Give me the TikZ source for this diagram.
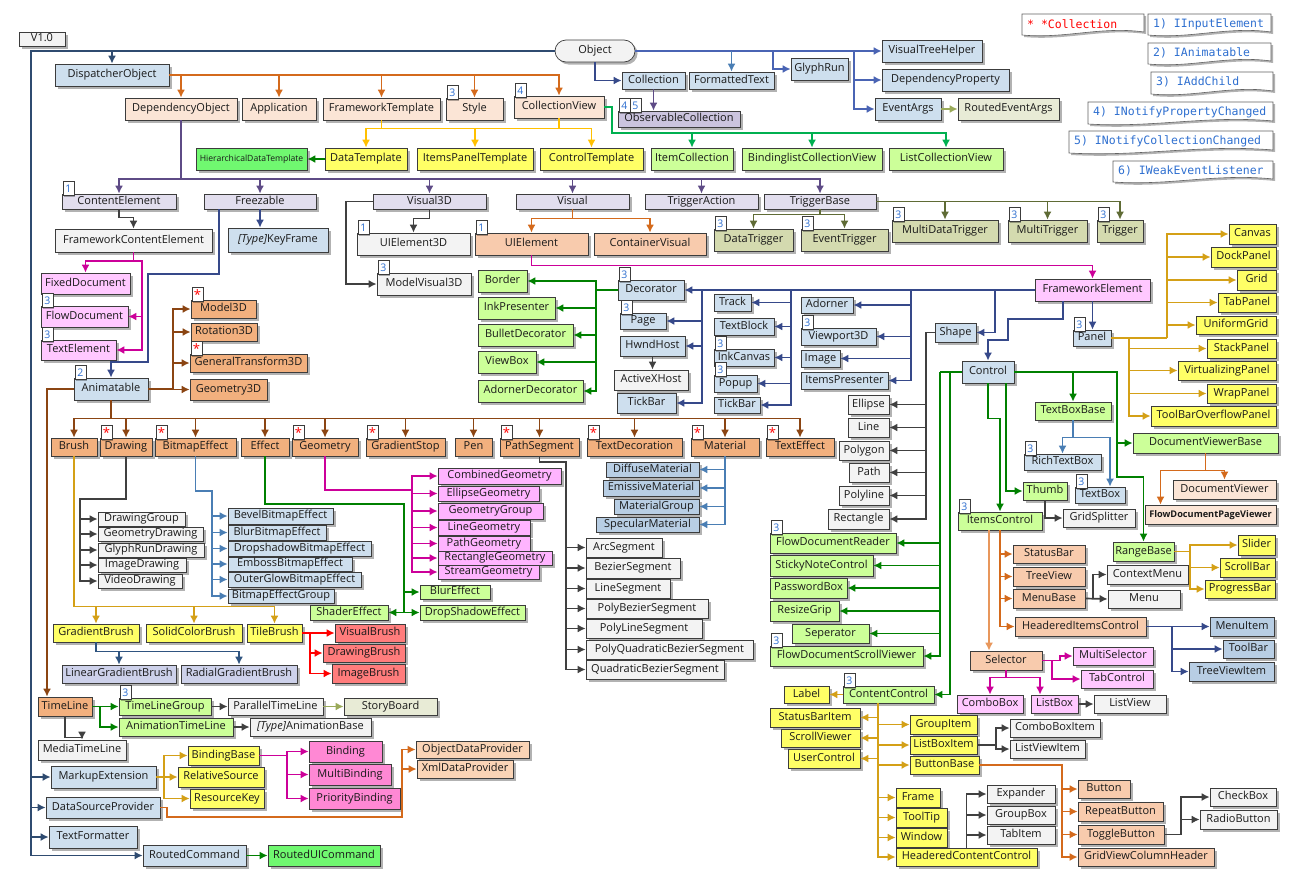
\documentclass[tikz,border=0pt]{standalone}
\usepackage{fontspec}
\setmainfont{Open Sans}
\newfontfamily\monofont{DejaVu Sans Mono}
\usetikzlibrary{positioning,arrows.meta,shadows}

\definecolor{bd}{HTML}{3C3C3C}
\definecolor{cnum}{HTML}{2E6FD0}
\definecolor{fblue}{HTML}{CEDFEE}
\definecolor{fblue2}{HTML}{B8CEE4}
\definecolor{fpeachl}{HTML}{FBE5D6}
\definecolor{fpeach}{HTML}{F8CBAD}
\definecolor{forange}{HTML}{F2B07E}
\definecolor{flav}{HTML}{E2DEEE}
\definecolor{flav2}{HTML}{CBC4DE}
\definecolor{fwhite}{HTML}{F3F3F3}
\definecolor{fyel}{HTML}{FFFF66}
\definecolor{fgreenl}{HTML}{CCFF99}
\definecolor{fgreen}{HTML}{70F870}
\definecolor{fpink}{HTML}{FFC8FF}
\definecolor{fpink2}{HTML}{FFB4FF}
\definecolor{fhot}{HTML}{FF88D4}
\definecolor{fred}{HTML}{FF7C7C}
\definecolor{folive}{HTML}{D4DAAF}
\definecolor{folivel}{HTML}{E8EBD6}
\definecolor{flavb}{HTML}{CDD1EA}
\definecolor{fpeachm}{HTML}{FAD4B6}
\definecolor{ctrunk}{HTML}{2F4B70}
\definecolor{cnavy}{HTML}{36498A}
\definecolor{cblue}{HTML}{4A64B4}
\definecolor{csteel}{HTML}{4A7EB4}
\definecolor{corange}{HTML}{D46A1C}
\definecolor{corangel}{HTML}{E8975C}
\definecolor{cbrown}{HTML}{8B4513}
\definecolor{cpurple}{HTML}{5E4B86}
\definecolor{cgold}{HTML}{FFC000}
\definecolor{cmustard}{HTML}{D4A017}
\definecolor{cgreen}{HTML}{008000}
\definecolor{clgreen}{HTML}{00B050}
\definecolor{colive}{HTML}{5F6B35}
\definecolor{colivel}{HTML}{9AAA5A}
\definecolor{cmag}{HTML}{CC0099}
\definecolor{cgrey}{HTML}{404040}
\definecolor{cred}{HTML}{FF0000}
\definecolor{cgblue}{HTML}{2F5480}

\begin{document}
\begin{tikzpicture}
    [
    x=1pt, y=-1pt,
    spot/.style args={#1,#2,#3,#4}{minimum width={#3-#1}, minimum height={#4-#2}, at={({(#1+#3)/2},{(#2+#4)/2})}},
    box/.style={draw=bd, line width=0.7pt, inner xsep=2pt, inner ysep=0pt, text height=8pt, text depth=2.5pt,
      font=\fontsize{11}{12}\selectfont, text=black!90,
      drop shadow={shadow xshift=2.5pt, shadow yshift=-2.5pt, fill=black, opacity=.3}},
    blu/.style={box, fill=fblue},
    blu2/.style={box, fill=fblue2},
    pkl/.style={box, fill=fpeachl},
    pkm/.style={box, fill=fpeachm},
    pch/.style={box, fill=fpeach},
    org/.style={box, fill=forange},
    lav/.style={box, fill=flav},
    lav2/.style={box, fill=flav2},
    lavb/.style={box, fill=flavb},
    wht/.style={box, fill=fwhite},
    yel/.style={box, fill=fyel},
    grl/.style={box, fill=fgreenl},
    grn/.style={box, fill=fgreen},
    pnk/.style={box, fill=fpink},
    pnk2/.style={box, fill=fpink2},
    hot/.style={box, fill=fhot},
    redb/.style={box, fill=fred},
    olv/.style={box, fill=folive},
    olvl/.style={box, fill=folivel},
    badge/.style={draw=bd, fill=white, line width=0.6pt, minimum width=11pt, minimum height=14pt,
      inner sep=0pt, anchor=south west, text=cnum, font=\fontsize{10.5}{11}\selectfont,
      drop shadow={shadow xshift=1.5pt, shadow yshift=-1.5pt, fill=black, opacity=.3}},
    astx/.style={badge, text=red, font=\fontsize{13}{13}\selectfont},
    ln/.style={line width=1.7pt},
    arr/.style={ln, -{Latex[length=8pt,width=8pt]}},
    legend/.style={draw=bd!80, fill=white, line width=0.6pt,
      drop shadow={shadow xshift=2pt, shadow yshift=-2pt, fill=black, opacity=.3}},
    legtext/.style={anchor=west, inner sep=0pt, text=cnum, font=\monofont\fontsize{11.5}{12}\selectfont},
    ]
    \useasboundingbox (0,0) rectangle (1295,881);
    \fill[white] (0,0) rectangle (1295,881);

    % top
    \node (ver) [wht, spot={19,32,65,46}] {V1.0};
    \node (obj) [wht, rounded corners=11pt, spot={555,40,635,62}] {Object};
    \node (dispobj) [blu, spot={55,64,169,86}] {DispatcherObject};
    \node (depobj) [pkl, spot={125,98,237,120}] {DependencyObject};
    \node (app) [pkl, spot={242,98,316,120}] {Application};
    \node (ftpl) [pkl, spot={323,98,440,120}] {FrameworkTemplate};
    \node (sty) [pkl, spot={446,98,503,120}] {Style};
    \node (cview) [pkl, spot={514,96,604,118}] {CollectionView};
    \node (coll) [blu, spot={622,72,685,89}] {Collection};
    \node (obs) [lav2, spot={618,111,740,127}] {ObservableCollection};
    \node (ftext) [blu, spot={689,72,774,89}] {FormattedText};
    \node (glyph) [blu, spot={791,58,848,80}] {GlyphRun};
    \node (vth) [blu, spot={882,40,982,62}] {VisualTreeHelper};
    \node (dprop) [blu, spot={882,69,1009,91}] {DependencyProperty};
    \node (evargs) [blu, spot={875,98,941,120}] {EventArgs};
    \node (revargs) [olvl, spot={958,98,1059,120}] {RoutedEventArgs};

    % templates and collection views
    \node (hdt) [grn, spot={196,148,307,170}, font=\fontsize{8.6}{9}\selectfont, text height=6.5pt, text depth=2pt] {HierarchicalDataTemplate};
    \node (dtpl) [yel, spot={325,148,407,170}] {DataTemplate};
    \node (ipt) [yel, spot={417,148,533,170}] {ItemsPanelTemplate};
    \node (ctpl) [yel, spot={540,148,643,170}] {ControlTemplate};
    \node (itemcoll) [grl, spot={651,148,733,170}] {ItemCollection};
    \node (blcv) [grl, spot={742,148,882,170}] {BindinglistCollectionView};
    \node (lcv) [grl, spot={889,148,1003,170}] {ListCollectionView};

    % dependency object children
    \node (celem) [lav, spot={62,194,176,209}] {ContentElement};
    \node (freez) [lav, spot={204,194,316,209}] {Freezable};
    \node (v3d) [lav, spot={373,194,486,209}] {Visual3D};
    \node (vis) [lav, spot={516,194,629,209}] {Visual};
    \node (taction) [lav, spot={645,194,758,209}] {TriggerAction};
    \node (tbase) [lav, spot={764,194,876,209}] {TriggerBase};

    \node (fce) [wht, spot={55,229,212,252}] {FrameworkContentElement};
    \node (kf) [blu, spot={228,228,328,252}] {\textit{[Type]}KeyFrame};
    \node (uie3d) [wht, spot={357,233,470,255}] {UIElement3D};
    \node (mv3d) [wht, spot={377,273,471,295}] {ModelVisual3D};
    \node (uie) [pch, spot={475,233,588,255}] {UIElement};
    \node (cvis) [pch, spot={594,233,706,255}] {ContainerVisual};
    \node (dtrig) [olv, spot={714,229,793,251}] {DataTrigger};
    \node (etrig) [olv, spot={801,229,888,251}] {EventTrigger};
    \node (mdtrig) [olv, spot={892,220,998,242}] {MultiDataTrigger};
    \node (mtrig) [olv, spot={1008,220,1087,242}] {MultiTrigger};
    \node (trig) [olv, spot={1097,220,1143,242}] {Trigger};

    \node (fixdoc) [pnk, spot={41,273,130,294}] {FixedDocument};
    \node (flowdoc) [pnk, spot={41,306,128,327}] {FlowDocument};
    \node (textel) [pnk, spot={41,340,116,360}] {TextElement};

    \node (model3d) [org, spot={191,300,256,318}] {Model3D};
    \node (rot3d) [org, spot={191,323,257,341}] {Rotation3D};
    \node (gt3d) [org, spot={190,354,307,372}] {GeneralTransform3D};
    \node (geo3d) [org, spot={190,379,267,400}] {Geometry3D};
    \node (anim) [blu, spot={74,378,148,400}] {Animatable};

    % framework element
    \node (fe) [pnk, spot={1035,279,1150,301}] {FrameworkElement};
    \node (deco) [blu, spot={618,280,684,300}] {Decorator};
    \node (border) [grl, spot={478,270,527,292}] {Border};
    \node (inkp) [grl, spot={478,297,555,319}] {InkPresenter};
    \node (bullet) [grl, spot={478,324,573,346}] {BulletDecorator};
    \node (viewbox) [grl, spot={478,351,536,373}] {ViewBox};
    \node (adeco) [grl, spot={478,380,583,402}] {AdornerDecorator};
    \node (page) [blu, spot={620,313,666,329}] {Page};
    \node (hwnd) [blu, spot={620,336,685,356}] {HwndHost};
    \node (activex) [wht, spot={614,370,688,390}] {ActiveXHost};
    \node (tickb1) [blu, spot={617,393,676,413}] {TickBar};
    \node (track) [blu, spot={714,294,751,311}] {Track};
    \node (tblock) [blu, spot={714,318,774,335}] {TextBlock};
    \node (inkc) [blu, spot={714,349,774,366}] {InkCanvas};
    \node (popup) [blu, spot={714,375,757,392}] {Popup};
    \node (tickb2) [blu, spot={714,397,760,413}] {TickBar};
    \node (adorner) [blu, spot={801,297,853,313}] {Adorner};
    \node (vp3d) [blu, spot={801,328,876,345}] {Viewport3D};
    \node (image) [blu, spot={801,350,840,367}] {Image};
    \node (ipres) [blu, spot={801,372,888,389}] {ItemsPresenter};
    \node (shape) [blu, spot={935,323,976,342}] {Shape};
    \node (ellipse) [wht, spot={848,395,889,414}] {Ellipse};
    \node (lin) [wht, spot={848,418,889,437}] {Line};
    \node (polygon) [wht, spot={839,441,889,460}] {Polygon};
    \node (pth) [wht, spot={849,463,889,482}] {Path};
    \node (polyline) [wht, spot={839,486,889,505}] {Polyline};
    \node (rectg) [wht, spot={828,509,889,529}] {Rectangle};

    % panels
    \node (panel) [blu, spot={1073,330,1111,346}] {Panel};
    \node (canvas) [yel, spot={1229,224,1276,244}] {Canvas};
    \node (dockp) [yel, spot={1211,247,1276,267}] {DockPanel};
    \node (grid) [yel, spot={1237,270,1276,290}] {Grid};
    \node (tabp) [yel, spot={1218,293,1276,312}] {TabPanel};
    \node (ugrid) [yel, spot={1196,316,1276,334}] {UniformGrid};
    \node (stackp) [yel, spot={1207,339,1276,358}] {StackPanel};
    \node (vpanel) [yel, spot={1178,361,1276,380}] {VirtualizingPanel};
    \node (wrapp) [yel, spot={1207,384,1276,403}] {WrapPanel};
    \node (tbop) [yel, spot={1151,406,1276,426}] {ToolBarOverflowPanel};

    % controls
    \node (ctrl) [blu, spot={962,361,1014,383}] {Control};
    \node (tbbase) [grl, spot={1035,402,1111,420}] {TextBoxBase};
    \node (dvb) [grl, spot={1133,433,1278,453}] {DocumentViewerBase};
    \node (rtb) [blu, spot={1024,454,1101,470}] {RichTextBox};
    \node (tbox) [blu, spot={1075,487,1125,503}] {TextBox};
    \node (thumb) [grl, spot={1023,482,1067,500}] {Thumb};
    \node (gsplit) [wht, spot={1063,509,1135,527}] {GridSplitter};
    \node (docv) [pkl, spot={1173,480,1276,499}] {DocumentViewer};
    \node (fdpv) [pkl, spot={1145,505,1276,524}, font=\fontsize{9.2}{10}\selectfont\bfseries] {FlowDocumentPageViewer};
    \node (ictrl) [grl, spot={958,512,1042,530}] {ItemsControl};
    \node (rbase) [grl, spot={1113,542,1174,561}] {RangeBase};
    \node (slider) [yel, spot={1238,535,1275,555}] {Slider};
    \node (sbar) [yel, spot={1220,558,1275,577}] {ScrollBar};
    \node (pbar) [yel, spot={1205,580,1275,598}] {ProgressBar};
    \node (statusbar) [pch, spot={1013,545,1085,563}] {StatusBar};
    \node (treeview) [pch, spot={1013,567,1085,586}] {TreeView};
    \node (menubase) [pch, spot={1013,589,1085,608}] {MenuBase};
    \node (hic) [pch, spot={1015,617,1146,636}] {HeaderedItemsControl};
    \node (ctxmenu) [wht, spot={1107,565,1188,584}] {ContextMenu};
    \node (menu) [wht, spot={1108,590,1180,608}] {Menu};
    \node (menuitem) [blu2, spot={1210,617,1274,636}] {MenuItem};
    \node (toolbar) [blu2, spot={1223,640,1274,658}] {ToolBar};
    \node (tvitem) [blu2, spot={1189,662,1274,681}] {TreeViewItem};
    \node (selector) [pch, spot={970,651,1042,670}] {Selector};
    \node (msel) [pnk, spot={1073,647,1153,665}] {MultiSelector};
    \node (tabctrl) [pnk, spot={1081,670,1153,688}] {TabControl};
    \node (combobox) [pnk, spot={957,695,1023,713}] {ComboBox};
    \node (listbox) [pnk, spot={1031,695,1078,713}] {ListBox};
    \node (listview) [wht, spot={1094,695,1166,713}] {ListView};

    \node (fdr) [grl, spot={770,533,896,553}] {FlowDocumentReader};
    \node (snc) [grl, spot={770,555,873,576}] {StickyNoteControl};
    \node (pwbox) [grl, spot={770,578,847,598}] {PasswordBox};
    \node (rgrip) [grl, spot={770,601,839,621}] {ResizeGrip};
    \node (sep) [grl, spot={792,624,869,643}] {Seperator};
    \node (fdsv) [grl, spot={770,646,923,666}] {FlowDocumentScrollViewer};
    \node (cctrl) [grl, spot={843,686,934,703}] {ContentControl};
    \node (lbl) [yel, spot={784,686,829,703}] {Label};
    \node (sbitem) [yel, spot={770,708,860,727}] {StatusBarItem};
    \node (sviewer) [yel, spot={781,729,860,747}] {ScrollViewer};
    \node (uctrl) [yel, spot={788,749,860,768}] {UserControl};
    \node (gitem) [yel, spot={910,715,977,734}] {GroupItem};
    \node (lbitem) [yel, spot={910,736,977,754}] {ListBoxItem};
    \node (btnbase) [yel, spot={910,756,979,774}] {ButtonBase};
    \node (frame) [yel, spot={896,788,940,807}] {Frame};
    \node (tooltip) [yel, spot={896,808,947,827}] {ToolTip};
    \node (window) [yel, spot={896,828,947,847}] {Window};
    \node (hcc) [yel, spot={896,848,1037,866}] {HeaderedContentControl};
    \node (expander) [wht, spot={987,785,1055,803}] {Expander};
    \node (gbox) [wht, spot={987,806,1055,824}] {GroupBox};
    \node (tabitem) [wht, spot={987,826,1055,844}] {TabItem};
    \node (cbitem) [wht, spot={1010,719,1100,737}] {ComboBoxItem};
    \node (lvitem) [wht, spot={1010,740,1085,758}] {ListViewItem};
    \node (button) [pch, spot={1078,780,1130,798}] {Button};
    \node (rbutton) [pch, spot={1078,802,1163,821}] {RepeatButton};
    \node (tbutton) [pch, spot={1078,825,1164,844}] {ToggleButton};
    \node (gvch) [pch, spot={1078,848,1214,866}] {GridViewColumnHeader};
    \node (checkbox) [wht, spot={1210,788,1276,806}] {CheckBox};
    \node (radio) [wht, spot={1200,810,1277,829}] {RadioButton};

    % animatable children
    \node (brush) [org, spot={51,438,97,456}] {Brush};
    \node (drawing) [org, spot={100,438,152,456}] {Drawing};
    \node (bmeff) [org, spot={155,438,236,456}] {BitmapEffect};
    \node (effect) [org, spot={241,438,289,456}] {Effect};
    \node (geometry) [org, spot={292,438,358,456}] {Geometry};
    \node (gstop) [org, spot={366,438,445,456}] {GradientStop};
    \node (pen) [org, spot={455,438,492,456}] {Pen};
    \node (pseg) [org, spot={500,438,579,456}] {PathSegment};
    \node (tdeco) [org, spot={587,438,682,456}] {TextDecoration};
    \node (material) [org, spot={691,438,759,456}] {Material};
    \node (teffect) [org, spot={766,438,834,456}] {TextEffect};

    \node (dgroup) [wht, spot={98,512,185,526}] {DrawingGroup};
    \node (gdraw) [wht, spot={98,527,203,541}] {GeometryDrawing};
    \node (grdraw) [wht, spot={98,543,204,557}] {GlyphRunDrawing};
    \node (idraw) [wht, spot={98,558,186,572}] {ImageDrawing};
    \node (vdraw) [wht, spot={98,574,182,588}] {VideoDrawing};

    \node (bevel) [blu, spot={228,508,333,524}] {BevelBitmapEffect};
    \node (blurbm) [blu, spot={228,525,326,540}] {BlurBitmapEffect};
    \node (dropbm) [blu, spot={228,541,371,556}] {DropshadowBitmapEffect};
    \node (embbm) [blu, spot={228,557,352,571}] {EmbossBitmapEffect};
    \node (ogbm) [blu, spot={228,572,361,587}] {OuterGlowBitmapEffect};
    \node (bmgroup) [blu, spot={228,589,334,603}] {BitmapEffectGroup};

    \node (blureff) [grl, spot={420,585,490,599}] {BlurEffect};
    \node (dropeff) [grl, spot={420,605,525,620}] {DropShadowEffect};
    \node (shadeff) [grl, spot={310,605,388,620}] {ShaderEffect};

    \node (combgeo) [pnk2, spot={438,468,561,484}] {CombinedGeometry};
    \node (ellgeo) [pnk2, spot={438,486,539,501}] {EllipseGeometry};
    \node (geogroup) [pnk2, spot={438,503,543,519}] {GeometryGroup};
    \node (linegeo) [pnk2, spot={438,520,530,535}] {LineGeometry};
    \node (pathgeo) [pnk2, spot={438,536,530,551}] {PathGeometry};
    \node (rectgeo) [pnk2, spot={438,551,552,565}] {RectangleGeometry};
    \node (streamgeo) [pnk2, spot={438,565,539,579}] {StreamGeometry};

    \node (arcseg) [wht, spot={586,538,662,557}] {ArcSegment};
    \node (bezseg) [wht, spot={586,558,680,578}] {BezierSegment};
    \node (lineseg) [wht, spot={586,579,670,598}] {LineSegment};
    \node (pbezseg) [wht, spot={586,599,708,618}] {PolyBezierSegment};
    \node (plineseg) [wht, spot={586,619,702,638}] {PolyLineSegment};
    \node (pqbseg) [wht, spot={586,640,753,659}] {PolyQuadraticBezierSegment};
    \node (qbseg) [wht, spot={586,660,724,679}] {QuadraticBezierSegment};

    \node (diffuse) [blu2, spot={606,462,699,477}] {DiffuseMaterial};
    \node (emissive) [blu2, spot={603,480,699,496}] {EmissiveMaterial};
    \node (matgroup) [blu2, spot={614,499,699,514}] {MaterialGroup};
    \node (specular) [blu2, spot={596,517,699,532}] {SpecularMaterial};

    \node (gradbrush) [yel, spot={53,624,139,642}] {GradientBrush};
    \node (solidbrush) [yel, spot={146,624,242,642}] {SolidColorBrush};
    \node (tilebrush) [yel, spot={247,624,302,642}] {TileBrush};
    \node (lingrad) [lavb, spot={62,665,176,683}] {LinearGradientBrush};
    \node (radgrad) [lavb, spot={181,665,297,683}] {RadialGradientBrush};
    \node (visbrush) [redb, spot={335,624,405,642}] {VisualBrush};
    \node (drawbrush) [redb, spot={323,644,405,662}] {DrawingBrush};
    \node (imgbrush) [redb, spot={332,664,405,683}] {ImageBrush};

    % timelines
    \node (tline) [org, spot={38,697,92,716}] {TimeLine};
    \node (tlgroup) [grl, spot={119,698,211,715}] {TimeLineGroup};
    \node (animtl) [grl, spot={119,718,233,736}] {AnimationTimeLine};
    \node (ptl) [wht, spot={228,698,323,715}] {ParallelTimeLine};
    \node (storyb) [olvl, spot={344,698,437,715}] {StoryBoard};
    \node (animbase) [wht, spot={250,718,371,736}] {\textit{[Type]}AnimationBase};
    \node (mtl) [wht, spot={38,740,126,760}] {MediaTimeLine};

    % markup and others
    \node (mext) [blu, spot={51,766,156,788}] {MarkupExtension};
    \node (bindbase) [yel, spot={188,746,259,765}] {BindingBase};
    \node (relsrc) [yel, spot={178,767,264,787}] {RelativeSource};
    \node (reskey) [yel, spot={190,789,264,808}] {ResourceKey};
    \node (binding) [hot, spot={309,741,382,762}] {Binding};
    \node (multib) [hot, spot={309,764,391,785}] {MultiBinding};
    \node (prib) [hot, spot={309,788,400,809}] {PriorityBinding};
    \node (dsp) [blu, spot={46,797,160,818}] {DataSourceProvider};
    \node (odp) [pkm, spot={416,741,529,758}] {ObjectDataProvider};
    \node (xdp) [pkm, spot={417,760,513,778}] {XmlDataProvider};
    \node (tform) [blu, spot={49,826,137,848}] {TextFormatter};
    \node (rcmd) [blu, spot={143,845,246,866}] {RoutedCommand};
    \node (rucmd) [grn, spot={268,845,380,866}] {RoutedUICommand};

    % interface marks
    \node (sty-i) [badge] at ([xshift=1pt,yshift=-2pt]sty.north west) {3};
    \node (cview-i) [badge] at ([xshift=1pt,yshift=-2pt]cview.north west) {4};
    \node (obs-i) [badge] at ([xshift=1pt,yshift=-2pt]obs.north west) {4};
    \node (obs-j) [badge] at ([xshift=12pt,yshift=-2pt]obs.north west) {5};
    \node (celem-i) [badge] at ([xshift=1pt,yshift=-2pt]celem.north west) {1};
    \node (uie3d-i) [badge] at ([xshift=1pt,yshift=-2pt]uie3d.north west) {1};
    \node (mv3d-i) [badge] at ([xshift=1pt,yshift=-2pt]mv3d.north west) {3};
    \node (uie-i) [badge] at ([xshift=1pt,yshift=-2pt]uie.north west) {1};
    \node (dtrig-i) [badge] at ([xshift=1pt,yshift=-2pt]dtrig.north west) {3};
    \node (etrig-i) [badge] at ([xshift=1pt,yshift=-2pt]etrig.north west) {3};
    \node (mdtrig-i) [badge] at ([xshift=1pt,yshift=-2pt]mdtrig.north west) {3};
    \node (mtrig-i) [badge] at ([xshift=1pt,yshift=-2pt]mtrig.north west) {3};
    \node (trig-i) [badge] at ([xshift=1pt,yshift=-2pt]trig.north west) {3};
    \node (flowdoc-i) [badge] at ([xshift=1pt,yshift=-2pt]flowdoc.north west) {3};
    \node (textel-i) [badge] at ([xshift=1pt,yshift=-2pt]textel.north west) {3};
    \node (anim-i) [badge] at ([xshift=1pt,yshift=-2pt]anim.north west) {2};
    \node (deco-i) [badge] at ([xshift=1pt,yshift=-2pt]deco.north west) {3};
    \node (page-i) [badge] at ([xshift=1pt,yshift=-2pt]page.north west) {3};
    \node (inkc-i) [badge] at ([xshift=1pt,yshift=-2pt]inkc.north west) {3};
    \node (popup-i) [badge] at ([xshift=1pt,yshift=-2pt]popup.north west) {3};
    \node (vp3d-i) [badge] at ([xshift=1pt,yshift=-2pt]vp3d.north west) {3};
    \node (panel-i) [badge] at ([xshift=1pt,yshift=-2pt]panel.north west) {3};
    \node (rtb-i) [badge] at ([xshift=1pt,yshift=-2pt]rtb.north west) {3};
    \node (tbox-i) [badge] at ([xshift=1pt,yshift=-2pt]tbox.north west) {3};
    \node (ictrl-i) [badge] at ([xshift=1pt,yshift=-2pt]ictrl.north west) {3};
    \node (fdr-i) [badge] at ([xshift=1pt,yshift=-2pt]fdr.north west) {3};
    \node (fdsv-i) [badge] at ([xshift=1pt,yshift=-2pt]fdsv.north west) {3};
    \node (cctrl-i) [badge] at ([xshift=1pt,yshift=-2pt]cctrl.north west) {3};
    \node (tlgroup-i) [badge] at ([xshift=1pt,yshift=-2pt]tlgroup.north west) {3};
    \node (model3d-c) [astx] at ([xshift=1pt,yshift=-2pt]model3d.north west) {*};
    \node (gt3d-c) [astx] at ([xshift=1pt,yshift=-2pt]gt3d.north west) {*};
    \node (drawing-c) [astx] at ([xshift=1pt,yshift=-2pt]drawing.north west) {*};
    \node (bmeff-c) [astx] at ([xshift=1pt,yshift=-2pt]bmeff.north west) {*};
    \node (geometry-c) [astx] at ([xshift=1pt,yshift=-2pt]geometry.north west) {*};
    \node (gstop-c) [astx] at ([xshift=1pt,yshift=-2pt]gstop.north west) {*};
    \node (pseg-c) [astx] at ([xshift=1pt,yshift=-2pt]pseg.north west) {*};
    \node (tdeco-c) [astx] at ([xshift=1pt,yshift=-2pt]tdeco.north west) {*};
    \node (material-c) [astx] at ([xshift=1pt,yshift=-2pt]material.north west) {*};
    \node (teffect-c) [astx] at ([xshift=1pt,yshift=-2pt]teffect.north west) {*};

    % branch points
    \coordinate (lt) at (31,51);
    \coordinate (o1) at (773,51);
    \coordinate (o2) at (854,51);
    \coordinate (cv1) at (612,133);
    \coordinate (p1) at (181,179);
    \coordinate (m1) at (133.5,261);
    \coordinate (m2) at (142,261);
    \coordinate (fa1) at (148,274);
    \coordinate (fa2) at (111,362);
    \coordinate (f1) at (702,290);
    \coordinate (f2) at (791,290);
    \coordinate (f3) at (911,290);
    \coordinate (f4) at (995,290);
    \coordinate (fc1) at (1008,319);
    \coordinate (fc2) at (988,340);
    \coordinate (d1) at (596,290);
    \coordinate (s1) at (926,332.5);
    \coordinate (c1) at (940,372);
    \coordinate (c2) at (950,372);
    \coordinate (c3) at (1117,372);
    \coordinate (c4) at (1143.5,477);
    \coordinate (pn1) at (1167,338);
    \coordinate (pn2) at (1129,338);
    \coordinate (r1) at (1190,551.5);
    \coordinate (mb1) at (1093,599);
    \coordinate (h1) at (1172,626.5);
    \coordinate (se1) at (1052,660.5);
    \coordinate (lb1) at (996,745);
    \coordinate (bb1) at (1062,765);
    \coordinate (tg1) at (1181,834.5);
    \coordinate (a1) at (173,389);
    \coordinate (dr1) at (80,499);
    \coordinate (be1) at (212,491);
    \coordinate (ef1) at (404,504);
    \coordinate (ge1) at (412,490);
    \coordinate (ps1) at (566,462);
    \coordinate (tb1) at (310,633);
    \coordinate (tl1) at (100,706.5);
    \coordinate (me1) at (164,777);
    \coordinate (bi1) at (287,755.5);
    \coordinate (ds1) at (167,817);
    \coordinate (ds2) at (402,817);

    % object
    \draw [arr, ctrunk] (obj.west) -- (lt) |- (rcmd.west);
    \draw [arr, ctrunk] (lt -| dispobj.north) -- (dispobj.north);
    \draw [arr, ctrunk] (lt |- mext.west) -- (mext.west);
    \draw [arr, ctrunk] (lt |- dsp.west) -- (dsp.west);
    \draw [arr, ctrunk] (lt |- tform.west) -- (tform.west);
    \draw [arr, cgreen] (rcmd) -- (rucmd);
    \draw [arr, cnavy] (obj.south) |- (coll.west);
    \draw [arr, cpurple] (coll.south) -- (coll.south |- obs.north);
    \draw [arr, cblue] (obj.east) -- (vth.west);
    \draw [arr, csteel] (obj.east -| ftext.north) -- (ftext.north);
    \draw [arr, cblue] (o1) |- (glyph.west);
    \draw [arr, cblue] (o2) |- (dprop.west);
    \draw [arr, cblue] (o2) |- (evargs.west);
    \draw [arr, colivel] (evargs) -- (revargs);

    % dispatcher object
    \draw [arr, corange] (dispobj.east) -| (depobj.north);
    \draw [arr, corange] (dispobj.east) -| (app.north);
    \draw [arr, corange] (dispobj.east) -| (ftpl.north);
    \draw [arr, corange] (dispobj.east) -| (sty.north);
    \draw [arr, corange] (dispobj.east) -| (cview.north);
    \draw [arr, cgold] (ftpl.south) -- ++(0,8) -| (dtpl.north);
    \draw [arr, cgold] (ftpl.south) -- ++(0,8) -| (ipt.north);
    \draw [arr, cgold] (ftpl.south) -- ++(0,8) -| (ctpl.north);
    \draw [ln, cgold] (cview.south) -- ++(0,10);
    \draw [arr, cgreen] (dtpl.west) -- (hdt.east);
    \draw [arr, clgreen] (cview.east) -| (cv1) -| (itemcoll.north);
    \draw [arr, clgreen] (cv1) -| (blcv.north);
    \draw [arr, clgreen] (cv1) -| (lcv.north);

    % dependency object
    \draw [arr, cpurple] (depobj.south) -- (p1) -| (celem.north);
    \draw [arr, cpurple] (p1) -| (freez.north);
    \draw [arr, cpurple] (p1) -| (v3d.north);
    \draw [arr, cpurple] (p1) -| (vis.north);
    \draw [arr, cpurple] (p1) -| (taction.north);
    \draw [arr, cpurple] (p1) -| (tbase.north);
    \draw [arr, cgrey] (celem.south) -- ++(0,8) -| (fce.north);
    \draw [arr, cmag] (fce.south) -- (m1) -| (fixdoc.north);
    \draw [arr, cmag] (m1) -- (m2) |- (textel.east);
    \draw [arr, cmag] (m2) |- (flowdoc.east);
    \draw [arr, cnavy] (freez.south) -- (freez.south |- kf.north);
    \draw [arr, cnavy] ([xshift=15pt]freez.south west) |- (fa1) |- (fa2) -- (anim.north);
    \draw [arr, cgrey] (v3d.south) -- ++(0,9) -| (uie3d.north);
    \draw [arr, cgrey] (v3d.west) -- ++(-27,0) |- (mv3d.west);
    \draw [arr, corange] (vis.south) -- ++(0,9) -| (uie.north);
    \draw [arr, corange] (vis.south) -- ++(0,9) -| (cvis.north);
    \draw [arr, cmag] (uie.south) -- ++(0,10) -| (fe.north);
    \draw [arr, colive] (tbase.south) -- ++(0,5) -| (dtrig.north);
    \draw [arr, colive] (tbase.south) -- ++(0,5) -| (etrig.north);
    \draw [arr, colive] (tbase.east) -| (mdtrig.north);
    \draw [arr, colive] (tbase.east) -| (mtrig.north);
    \draw [arr, colive] (tbase.east) -| (trig.north);

    % framework element
    \draw [arr, cnavy] (fe.west) -- (deco.east);
    \draw [arr, cnavy] (f1) |- (page.east);
    \draw [arr, cnavy] (f1) |- (hwnd.east);
    \draw [arr, cnavy] (f1) |- (tickb1.east);
    \draw [arr, cnavy] (f2) |- (track.east);
    \draw [arr, cnavy] (f2) |- (tblock.east);
    \draw [arr, cnavy] (f2) |- (inkc.east);
    \draw [arr, cnavy] (f2) |- (popup.east);
    \draw [arr, cnavy] (f2) |- (tickb2.east);
    \draw [arr, cnavy] (f3) |- (adorner.east);
    \draw [arr, cnavy] (f3) |- (vp3d.east);
    \draw [arr, cnavy] (f3) |- (image.east);
    \draw [arr, cnavy] (f3) |- (ipres.east);
    \draw [arr, cnavy] (f4) |- (shape.east);
    \draw [arr, cnavy] ([xshift=-29.5pt]fe.south) |- (fc1) |- (fc2) -- (ctrl.north);
    \draw [arr, cnavy] (fe.south) -- (fe.south |- panel.north);
    \draw [arr, cgrey] (hwnd.south) -- (hwnd.south |- activex.north);
    \draw [arr, cgreen] (deco.west) -- (d1) |- (border.east);
    \draw [arr, cgreen] (d1) |- (inkp.east);
    \draw [arr, cgreen] (d1) |- (bullet.east);
    \draw [arr, cgreen] (d1) |- (viewbox.east);
    \draw [arr, cgreen] (d1) |- (adeco.east);
    \draw [arr, cgrey] (shape.west) -- (s1) |- (ellipse.east);
    \draw [arr, cgrey] (s1) |- (lin.east);
    \draw [arr, cgrey] (s1) |- (polygon.east);
    \draw [arr, cgrey] (s1) |- (pth.east);
    \draw [arr, cgrey] (s1) |- (polyline.east);
    \draw [arr, cgrey] (s1) |- (rectg.east);

    % panel
    \draw [ln, cmustard] (panel.east) -- (pn1);
    \draw [arr, cmustard] (pn1) |- (canvas.west);
    \draw [arr, cmustard] (pn1) |- (dockp.west);
    \draw [arr, cmustard] (pn1) |- (grid.west);
    \draw [arr, cmustard] (pn1) |- (tabp.west);
    \draw [arr, cmustard] (pn1) |- (ugrid.west);
    \draw [arr, cmustard] (pn2) |- (stackp.west);
    \draw [arr, cmustard] (pn2) |- (vpanel.west);
    \draw [arr, cmustard] (pn2) |- (wrapp.west);
    \draw [arr, cmustard] (pn2) |- (tbop.west);

    % control
    \draw [ln, cgreen] (ctrl.west) -- (c1);
    \draw [arr, cgreen] (c1) |- (fdr.east);
    \draw [arr, cgreen] (c1) |- (snc.east);
    \draw [arr, cgreen] (c1) |- (pwbox.east);
    \draw [arr, cgreen] (c1) |- (rgrip.east);
    \draw [arr, cgreen] (c1) |- (sep.east);
    \draw [arr, cgreen] (c1) |- (fdsv.east);
    \draw [arr, cgreen] (c2) |- (cctrl.east);
    \draw [arr, cgreen] (ctrl.east) -| (tbbase.north);
    \draw [arr, cgreen] (ctrl.east) -- (c3) |- (dvb.west);
    \draw [arr, cgreen] (c3) |- (c4) -- (rbase.north);
    \draw [arr, cgreen] (ctrl.south) -- ++(0,35) -| (ictrl.north);
    \draw [arr, cgreen] ([xshift=18pt]ctrl.south) |- (thumb.west);
    \draw [arr, csteel] (tbbase.south) -- ++(0,17) -| (rtb.north);
    \draw [arr, csteel] (tbbase.south) -- ++(0,17) -| ([xshift=10pt]tbox.north);
    \draw [arr, cgrey] (thumb.south) |- (gsplit.west);
    \draw [arr, corange] (dvb.south) -- ++(0,17) -| ([xshift=-50pt]fdpv.north);
    \draw [arr, corange] (dvb.south) -- ++(0,17) -| (docv.north);
    \draw [ln, cmustard] (rbase.east) -- (r1);
    \draw [arr, cmustard] (r1) |- (slider.west);
    \draw [arr, cmustard] (r1) |- (sbar.west);
    \draw [arr, cmustard] (r1) |- (pbar.west);

    % items control
    \draw [arr, corange] (ictrl.south) |- (statusbar.west);
    \draw [arr, corange] (ictrl.south) |- (treeview.west);
    \draw [arr, corange] (ictrl.south) |- (menubase.west);
    \draw [arr, corange] (ictrl.south) |- (hic.west);
    \draw [arr, corangel] ([xshift=-11pt]ictrl.south) -- ([xshift=-11pt]ictrl.south |- selector.north);
    \draw [arr, cgrey] (menubase.east) -- (menu.west);
    \draw [arr, cgrey] (mb1) |- (ctxmenu.west);
    \draw [arr, cnavy] (hic.east) -- (menuitem.west);
    \draw [arr, cnavy] (h1) |- (toolbar.west);
    \draw [arr, cnavy] (h1) |- (tvitem.west);
    \draw [arr, cmag] (selector.east) -- (se1) |- (tabctrl.west);
    \draw [arr, cmag] (se1) -- ++(8,0) |- (msel.west);
    \draw [arr, cmag] (selector.south) -- ++(0,7) -| (combobox.north);
    \draw [arr, cmag] (selector.south) -- ++(0,7) -| ([xshift=-14.5pt]listbox.north);
    \draw [arr, cgrey] (listbox.east) -- (listview.west);

    % content control
    \draw [arr, cmustard] (cctrl.west) -- (lbl.east);
    \draw [arr, cmustard] ([xshift=-10.5pt]cctrl.south) |- (sbitem.east);
    \draw [arr, cmustard] ([xshift=-10.5pt]cctrl.south) |- (sviewer.east);
    \draw [arr, cmustard] ([xshift=-10.5pt]cctrl.south) |- (uctrl.east);
    \draw [arr, cmustard] ([xshift=-10.5pt]cctrl.south) |- (gitem.west);
    \draw [arr, cmustard] ([xshift=-10.5pt]cctrl.south) |- (lbitem.west);
    \draw [arr, cmustard] ([xshift=-10.5pt]cctrl.south) |- (btnbase.west);
    \draw [arr, cmustard] ([xshift=-10.5pt]cctrl.south) |- (frame.west);
    \draw [arr, cmustard] ([xshift=-10.5pt]cctrl.south) |- (tooltip.west);
    \draw [arr, cmustard] ([xshift=-10.5pt]cctrl.south) |- (window.west);
    \draw [arr, cmustard] ([xshift=-10.5pt]cctrl.south) |- (hcc.west);
    \draw [arr, cgrey] (hcc.north) |- (expander.west);
    \draw [arr, cgrey] (hcc.north) |- (gbox.west);
    \draw [arr, cgrey] (hcc.north) |- (tabitem.west);
    \draw [arr, cgrey] (lbitem.east) -- (lb1) |- (cbitem.west);
    \draw [arr, cgrey] (lb1) |- (lvitem.west);
    \draw [arr, corange] (btnbase.east) -- (bb1) |- (button.west);
    \draw [arr, corange] (bb1) |- (rbutton.west);
    \draw [arr, corange] (bb1) |- (tbutton.west);
    \draw [arr, corange] (bb1) |- (gvch.west);
    \draw [arr, cgrey] (tbutton.east) -- (tg1) |- (checkbox.west);
    \draw [arr, cgrey] (tg1) |- (radio.west);

    % animatable
    \draw [arr, cbrown] (anim.east) -- (a1) |- (model3d.west);
    \draw [arr, cbrown] (a1) |- (rot3d.west);
    \draw [arr, cbrown] (a1) |- (gt3d.west);
    \draw [arr, cbrown] (a1) |- (geo3d.west);
    \draw [arr, cbrown] (anim.west) -| ([xshift=-18pt]tline.north);
    \draw [arr, cbrown] (anim.south) -- ++(0,18) -| (brush.north);
    \draw [arr, cbrown] (anim.south) -- ++(0,18) -| (drawing.north);
    \draw [arr, cbrown] (anim.south) -- ++(0,18) -| (bmeff.north);
    \draw [arr, cbrown] (anim.south) -- ++(0,18) -| (effect.north);
    \draw [arr, cbrown] (anim.south) -- ++(0,18) -| (geometry.north);
    \draw [arr, cbrown] (anim.south) -- ++(0,18) -| (gstop.north);
    \draw [arr, cbrown] (anim.south) -- ++(0,18) -| (pen.north);
    \draw [arr, cbrown] (anim.south) -- ++(0,18) -| (pseg.north);
    \draw [arr, cbrown] (anim.south) -- ++(0,18) -| (tdeco.north);
    \draw [arr, cbrown] (anim.south) -- ++(0,18) -| (material.north);
    \draw [arr, cbrown] (anim.south) -- ++(0,18) -| (teffect.north);

    \draw [arr, cgrey] (drawing.south) |- (dr1) |- (dgroup.west);
    \draw [arr, cgrey] (dr1) |- (gdraw.west);
    \draw [arr, cgrey] (dr1) |- (grdraw.west);
    \draw [arr, cgrey] (dr1) |- (idraw.west);
    \draw [arr, cgrey] (dr1) |- (vdraw.west);
    \draw [arr, csteel] (bmeff.south) |- (be1) |- (bevel.west);
    \draw [arr, csteel] (be1) |- (blurbm.west);
    \draw [arr, csteel] (be1) |- (dropbm.west);
    \draw [arr, csteel] (be1) |- (embbm.west);
    \draw [arr, csteel] (be1) |- (ogbm.west);
    \draw [arr, csteel] (be1) |- (bmgroup.west);
    \draw [arr, cgreen] (effect.south) |- (ef1) |- (blureff.west);
    \draw [arr, cgreen] (ef1) |- (dropeff.west);
    \draw [arr, cgreen] (ef1) |- (shadeff.east);
    \draw [arr, cmag] (geometry.south) |- (ge1) |- (combgeo.west);
    \draw [arr, cmag] (ge1) |- (ellgeo.west);
    \draw [arr, cmag] (ge1) |- (geogroup.west);
    \draw [arr, cmag] (ge1) |- (linegeo.west);
    \draw [arr, cmag] (ge1) |- (pathgeo.west);
    \draw [arr, cmag] (ge1) |- (rectgeo.west);
    \draw [arr, cmag] (ge1) |- (streamgeo.west);
    \draw [arr, cgrey] (pseg.south) |- (ps1) |- (arcseg.west);
    \draw [arr, cgrey] (ps1) |- (bezseg.west);
    \draw [arr, cgrey] (ps1) |- (lineseg.west);
    \draw [arr, cgrey] (ps1) |- (pbezseg.west);
    \draw [arr, cgrey] (ps1) |- (plineseg.west);
    \draw [arr, cgrey] (ps1) |- (pqbseg.west);
    \draw [arr, cgrey] (ps1) |- (qbseg.west);
    \draw [arr, csteel] (material.south) |- (diffuse.east);
    \draw [arr, csteel] (material.south) |- (emissive.east);
    \draw [arr, csteel] (material.south) |- (matgroup.east);
    \draw [arr, csteel] (material.south) |- (specular.east);

    % brushes
    \draw [arr, cmustard] (brush.south) -- ++(0,150) -| (gradbrush.north);
    \draw [arr, cmustard] (brush.south) -- ++(0,150) -| (solidbrush.north);
    \draw [arr, cmustard] (brush.south) -- ++(0,150) -| (tilebrush.north);
    \draw [arr, cgblue] (gradbrush.south) -- ++(0,9) -| (lingrad.north);
    \draw [arr, cgblue] (gradbrush.south) -- ++(0,9) -| (radgrad.north);
    \draw [arr, cred] (tilebrush.east) -- (visbrush.west);
    \draw [arr, cred] (tb1) |- (drawbrush.west);
    \draw [arr, cred] (tb1) |- (imgbrush.west);

    % timelines
    \draw [arr, cgreen] (tline.east) -- (tlgroup.west);
    \draw [arr, cgreen] (tl1) |- (animtl.west);
    \draw [arr, cgrey] (tlgroup) -- (ptl);
    \draw [arr, colivel] (ptl) -- (storyb);
    \draw [arr, cgrey] (animtl) -- (animbase);
    \draw [arr, cgrey] (tline.south) -- ++(0,21) -| (mtl.north);

    % markup extension and data providers
    \draw [arr, cmustard] (mext.east) -- (relsrc.west);
    \draw [arr, cmustard] (me1) |- (bindbase.west);
    \draw [arr, cmustard] (me1) |- (reskey.west);
    \draw [arr, cmag] (bindbase.east) -- (bi1) |- (binding.west);
    \draw [arr, cmag] (bi1) |- (multib.west);
    \draw [arr, cmag] (bi1) |- (prib.west);
    \draw [arr, corange] (dsp.east) -| (ds1) -- (ds2) |- (odp.west);
    \draw [arr, corange] (ds2) |- (xdp.west);

    % legend
    \draw [legend] (1022,14) -- (1144,14) -- (1144,32) .. controls (1101,26) and (1065,39) .. (1022,35) -- cycle;
    \draw [legend] (1148,14) -- (1271,14) -- (1271,32) .. controls (1228,26) and (1191,39) .. (1148,35) -- cycle;
    \draw [legend] (1148,43) -- (1271,43) -- (1271,61) .. controls (1228,55) and (1191,68) .. (1148,64) -- cycle;
    \draw [legend] (1151,72) -- (1273,72) -- (1273,91) .. controls (1230,85) and (1194,98) .. (1151,94) -- cycle;
    \draw [legend] (1088,102) -- (1273,102) -- (1273,121) .. controls (1208,115) and (1153,128) .. (1088,124) -- cycle;
    \draw [legend] (1069,131) -- (1273,131) -- (1273,150) .. controls (1202,144) and (1140,157) .. (1069,153) -- cycle;
    \draw [legend] (1113,161) -- (1273,161) -- (1273,179) .. controls (1217,173) and (1169,186) .. (1113,182) -- cycle;
    \node (lg0) [legtext, text=red] at (1027,24) {* *Collection};
    \node (lg1) [legtext] at (1153,24) {1) IInputElement};
    \node (lg2) [legtext] at (1153,53) {2) IAnimatable};
    \node (lg3) [legtext] at (1156,82) {3) IAddChild};
    \node (lg4) [legtext] at (1093,112) {4) INotifyPropertyChanged};
    \node (lg5) [legtext] at (1074,141) {5) INotifyCollectionChanged};
    \node (lg6) [legtext] at (1118,171) {6) IWeakEventListener};
  \end{tikzpicture}
\end{document}
